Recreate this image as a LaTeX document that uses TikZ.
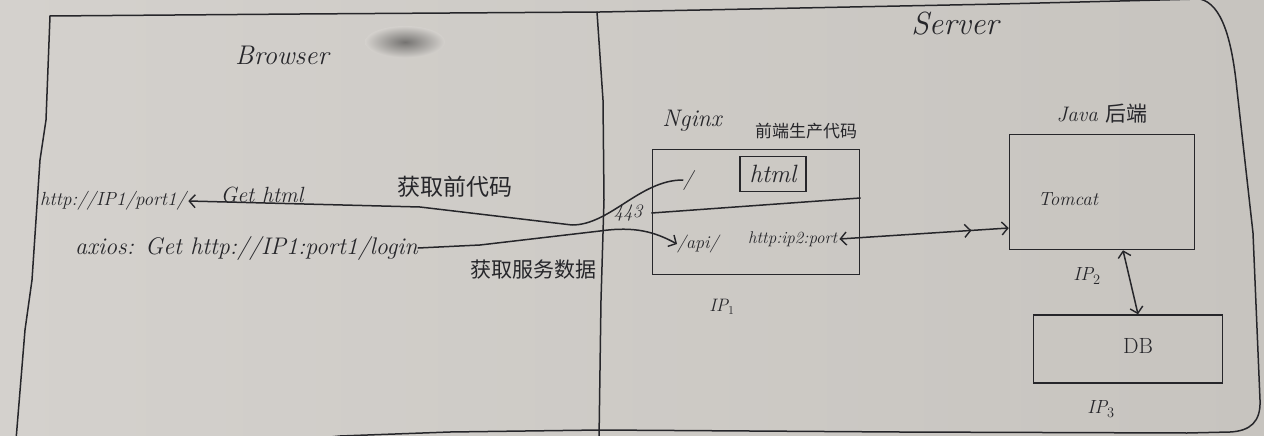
\documentclass[tikz,border=0pt]{standalone}
\usepackage{fontspec}
\newfontfamily\cjk{Noto Sans CJK SC}
\usetikzlibrary{arrows.meta,decorations.markings}
\definecolor{paper}{RGB}{212,209,205}
\definecolor{paperdark}{RGB}{199,196,191}
\definecolor{ink}{RGB}{38,38,42}
\tikzset{
  inkline/.style={draw=ink,line width=1.5pt,line cap=round,line join=round},
  boxnode/.style={draw=ink,line width=1.5pt,rectangle,inner sep=0pt},
  hw/.style={text=ink,inner sep=0pt,font=\itshape\fontsize{#1}{#1}\selectfont},
  cn/.style={text=ink,inner sep=0pt,font=\cjk\fontsize{#1}{#1}\selectfont},
  barb/.tip={Straight Barb[length=6pt,width=13pt,line width=1.4pt]},
  tipend/.style={-barb},
  tipboth/.style={barb-barb},
  midtip/.style={decoration={markings,mark=at position #1 with {\arrow{barb}}},postaction={decorate}}
}
\begin{document}
\begin{tikzpicture}[x=1pt,y=-1pt]
\shade[left color=paper, right color=paperdark] (0,0) rectangle (1264,436);
\useasboundingbox (0,0) rectangle (1264,436);
% smudge
\shade[inner color=black!45!paper, outer color=paper] (405,42) ellipse (40 and 16);
% frame
\draw[inkline] (16,440) -- (25,330) -- (32,280) -- (40,160) -- (46,120) -- (50,16)
  -- (300,14) -- (600,12) -- (1000,4) -- (1200,-1)
  .. controls (1222,4) and (1232,40) .. (1237,90) -- (1253,233) -- (1260,400)
  .. controls (1261,422) and (1250,431) .. (1230,432) -- (1187,433) -- (900,432)
  -- (600,430) -- (450,432) -- (340,436) -- (300,440);
\draw[inkline] (597,12) -- (603,100) -- (604,200) -- (601,300) -- (599,440);

% titles
\node[hw=27] (browser) at (282,55) {Browser};
\node[hw=32] (server) at (955,24) {Server};

% browser side texts
\node[hw=19,anchor=west] (url) at (40,201) {http://IP1/port1/};
\node[hw=22] (gethtml) at (262,195) {Get html};
\node[hw=24,anchor=west] (axios) at (75,248) {axios: Get http://IP1:port1/login};
\node[cn=23] (getfront) at (455,187) {获取前代码};
\node[cn=21] (getdata) at (533,270) {获取服务数据};
\node[hw=19] (p443) at (628,213) {443};

% nginx
\node[boxnode,minimum width=207,minimum height=125] (nginx) at (756,212) {};
\draw[inkline] ([yshift=-1pt]nginx.west) -- ([yshift=14pt]nginx.east);
\node[hw=24] (nginxlbl) at (692,121) {Nginx};
\node[cn=17] (frontcode) at (806,131) {前端生产代码};
\node[boxnode,minimum width=66,minimum height=35] (htmlbox) at (773,174) {};
\node[hw=25] (html) at (htmlbox) {html};
\node[hw=20] (slash) at (688,180) {/};
\node[hw=18,anchor=west] (api) at (677,244) {/api/};
\node[hw=17,anchor=west] (ip2port) at (748,239) {http:ip2:port};
\node[hw=18] (ip1) at (722,307) {IP$_1$};

% java side
\node[boxnode,minimum width=185,minimum height=115] (tomcat) at (1102,192) {};
\node[hw=19] (tomcatlbl) at (1068,199) {Tomcat};
\node[text=ink,inner sep=0pt,font=\fontsize{21}{21}\selectfont] (javalbl) at (1102,114) {\itshape Java {\cjk 后端}};
\node[boxnode,minimum width=189,minimum height=68] (db) at (1128,349) {};
\node[text=ink,inner sep=0pt,font=\fontsize{22}{22}\selectfont] (dblbl) at (1138,346) {DB};
\node[hw=19] (ip2) at (1087,276) {IP$_2$};
\node[hw=19] (ip3) at (1101,409) {IP$_3$};

% connectors
\draw[inkline,tipend] (slash.west) .. controls (640,180) and (610,225) .. (572,225) -- (420,207) -- ([xshift=2pt]url.east);
\draw[inkline,tipend] (axios.east) -- (480,245) -- (600,231) .. controls (635,226) and (655,232) .. (api.west);
\draw[inkline,tipboth,midtip=0.78] ([xshift=2pt]ip2port.east) -- ([yshift=-36pt]tomcat.west);
\draw[inkline,tipboth] ([xshift=21pt]tomcat.south) -- ([xshift=10pt]db.north);
\end{tikzpicture}
\end{document}
